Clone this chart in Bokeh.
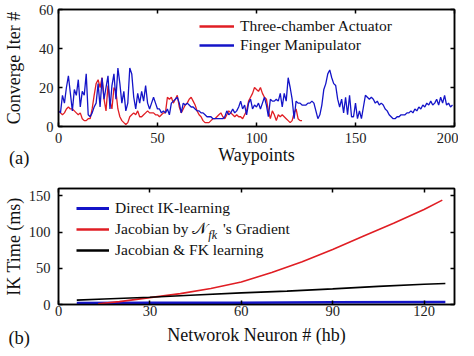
from bokeh.plotting import figure
from bokeh.models import Range1d, LinearAxis, FixedTicker, Legend, LegendItem
from bokeh.core.properties import value
from bokeh.layouts import column
from bokeh.embed import file_html
from bokeh.resources import INLINE

# ---------------- data (a) ----------------
iters_actuator = [8, 7, 6, 7, 9, 10, 9, 9, 8, 7, 6, 7, 4, 3, 3, 4, 4, 9, 16, 22,
                  24, 20, 25, 14, 8, 21, 13, 9, 20, 18, 9, 5, 3, 2, 1, 2, 5, 6, 7, 6,
                  8, 5, 5, 6, 7, 8, 7, 7, 7, 6, 6, 5, 6, 7, 7, 15, 14, 15, 12, 14,
                  16, 10, 7, 9, 11, 12, 14, 15, 13, 11, 8, 6, 5, 3, 2, 2, 2, 3, 4, 4,
                  5, 6, 7, 5, 4, 6, 8, 7, 6, 5, 6, 5, 5, 4, 6, 8, 13, 15, 17, 20,
                  19, 18, 20, 17, 15, 14, 8, 4, 8, 6, 3, 6, 5, 6, 5, 4, 3, 2, 3, 7,
                  9, 4, 3, 3]
iters_finger = [8, 7, 16, 12, 20, 26, 17, 8, 19, 16, 24, 10, 18, 16, 27, 6, 5, 7, 10, 12,
                22, 10, 25, 14, 20, 26, 9, 21, 27, 14, 30, 22, 12, 18, 8, 12, 30, 27, 15, 9,
                17, 12, 18, 13, 21, 12, 9, 12, 15, 12, 9, 9, 7, 8, 7, 9, 6, 12, 13, 14,
                15, 12, 7, 12, 11, 12, 11, 10, 10, 9, 8, 8, 7, 7, 6, 5, 5, 5, 4, 4,
                4, 4, 4, 4, 5, 8, 6, 7, 9, 7, 8, 10, 13, 9, 11, 6, 12, 14, 9, 11,
                10, 12, 9, 12, 15, 11, 5, 14, 13, 13, 14, 13, 17, 10, 17, 13, 25, 20, 14, 4,
                13, 12, 12, 11, 11, 11, 12, 12, 13, 12, 8, 4, 6, 11, 19, 22, 27, 29, 25, 22,
                21, 14, 10, 14, 7, 15, 6, 16, 5, 5, 12, 4, 8, 4, 10, 16, 15, 14, 15, 14,
                12, 13, 11, 12, 11, 9, 8, 6, 5, 4, 4, 5, 5, 6, 6, 6, 7, 7, 8, 7,
                9, 8, 10, 9, 11, 10, 12, 11, 13, 11, 12, 14, 11, 15, 12, 16, 11, 12, 10, 11]
waypoints_actuator = list(range(len(iters_actuator)))
waypoints_finger = list(range(len(iters_finger)))
ticks_a_x = [0, 50, 100, 150, 200]
ticks_a_y = [0, 20, 40, 60]

# ---------------- data (b) ----------------
neurons_direct = [6, 30, 60, 90, 127]
time_direct = [2, 2.5, 2.5, 3, 3.5]
neurons_grad = [13, 20, 30, 40, 50, 60, 70, 80, 90, 100, 110, 120, 126]
time_grad = [1, 4, 9.5, 15, 22, 31, 44, 59, 76, 94, 112, 131, 144]
neurons_fk = [6, 15, 30, 45, 60, 75, 90, 105, 120, 127]
time_fk = [6, 7.5, 10, 13, 16, 18.5, 21.5, 25, 28, 29]
ticks_b_x = [0, 30, 60, 90, 120]
ticks_b_y = [0, 50, 100, 150]

FONT = "Liberation Serif"
RED = "#e01e24"
BLUE = "#1414c8"
BLACK = "#000000"
TXT = "#111111"
NAN = float("nan")


def style(p, xt, yt, x_std, y_std, xl_std, yl_std):
    p.outline_line_color = "black"
    p.outline_line_width = 1.5
    p.grid.visible = False
    p.xaxis.ticker = FixedTicker(ticks=xt)
    p.yaxis.ticker = FixedTicker(ticks=yt)
    for ax in p.xaxis + p.yaxis:
        ax.major_tick_in = 4
        ax.major_tick_out = 0
        ax.minor_tick_line_color = None
        ax.axis_line_width = 1.5
        ax.major_tick_line_width = 1.5
        ax.major_label_text_font = FONT
        ax.major_label_text_font_size = "14.5px"
        ax.major_label_text_color = "#222222"
        ax.axis_label_text_font = FONT
        ax.axis_label_text_font_size = "18px"
        ax.axis_label_text_font_style = "normal"
        ax.axis_label_text_color = TXT
    p.xaxis.major_label_standoff = x_std
    p.yaxis.major_label_standoff = y_std
    p.xaxis.axis_label_standoff = xl_std
    p.yaxis.axis_label_standoff = yl_std
    # tick-only mirror axes on top and right (boxed MATLAB look), no labels drawn
    for loc, t in (("above", xt), ("right", yt)):
        ax = LinearAxis(ticker=FixedTicker(ticks=t), major_label_text_font_size="0px",
                        major_label_text_color=None,
                        major_label_standoff=0, major_tick_in=4, major_tick_out=0,
                        minor_tick_line_color=None, axis_line_width=1.5,
                        major_tick_line_width=1.5)
        p.add_layout(ax, loc)


def panel_tag(p, text, at):
    # a tick-label-only axis below the x axis; its single (padded) label sits left of
    # the frame on the same row as the x-axis title
    ax = LinearAxis(ticker=FixedTicker(ticks=[at]),
                    major_label_overrides={at: text + " " * 17}, major_label_standoff=-20,
                    major_tick_in=0, major_tick_out=0, minor_tick_line_color=None,
                    axis_line_color=None, major_tick_line_color=None,
                    major_label_text_font=FONT, major_label_text_font_size="18.5px",
                    major_label_text_color=TXT)
    p.add_layout(ax, "below")


def key(p, color, width):
    return p.line(x=[NAN], y=[NAN], line_color=color, line_width=width)


# ---------------- figure (a) ----------------
p1 = figure(width=458, height=170, x_range=Range1d(0, 200), y_range=Range1d(0, 60),
            output_backend="svg", toolbar_location=None,
            min_border_left=51, min_border_right=3, min_border_top=9, min_border_bottom=41,
            x_axis_label="Waypoints", y_axis_label="Converge Iter #")
style(p1, ticks_a_x, ticks_a_y, 6, 5, -1, 12)
p1.line(waypoints_actuator, iters_actuator, line_color=RED, line_width=1.3)
p1.line(waypoints_finger, iters_finger, line_color=BLUE, line_width=1.3)
leg1 = Legend(items=[LegendItem(label="Three-chamber Actuator", renderers=[key(p1, RED, 2.5)]),
                     LegendItem(label="Finger Manipulator", renderers=[key(p1, BLUE, 2.5)])],
              location=(141, 72), glyph_width=35, glyph_height=18, label_height=18,
              label_standoff=6, spacing=1, padding=2, margin=0,
              border_line_color=None, background_fill_alpha=0,
              label_text_font=FONT, label_text_font_size="15.5px", label_text_color=TXT)
p1.add_layout(leg1)
panel_tag(p1, "(a)", 0)

# ---------------- figure (b) ----------------
p2 = figure(width=458, height=180, x_range=Range1d(0, 130), y_range=Range1d(0, 160),
            output_backend="svg", toolbar_location=None,
            min_border_left=52, min_border_right=4, min_border_top=18, min_border_bottom=43,
            x_axis_label="Networok Neuron # (hb)", y_axis_label="IK Time (ms)")
style(p2, ticks_b_x, ticks_b_y, 1, 8, 6, 2)
p2.line(neurons_direct, time_direct, line_color=BLUE, line_width=2.5)
p2.line(neurons_grad, time_grad, line_color=RED, line_width=1.6)
p2.line(neurons_fk, time_fk, line_color=BLACK, line_width=1.6)
leg2 = Legend(items=[LegendItem(label="Direct IK-learning", renderers=[key(p2, BLUE, 3)]),
                     LegendItem(label="Jacobian by \U0001D4A9    's Gradient",
                                renderers=[key(p2, RED, 2.5)]),
                     LegendItem(label="Jacobian & FK learning", renderers=[key(p2, BLACK, 2.5)])],
              location=(18, 45), glyph_width=33, glyph_height=18, label_height=18,
              label_standoff=6, spacing=3, padding=4, margin=0,
              border_line_color=None, background_fill_alpha=0,
              label_text_font=FONT, label_text_font_size="15.5px", label_text_color=TXT)
p2.add_layout(leg2)
p2.text(x=[49.2], y=[95.4], text=["fk"], text_font=value(FONT), text_font_style="italic",
        text_font_size="12px", text_color=TXT, text_baseline="alphabetic")
panel_tag(p2, "(b)", 0)

layout = column(p1, p2, spacing=0)
open("out.html", "w").write(file_html(layout, INLINE))
